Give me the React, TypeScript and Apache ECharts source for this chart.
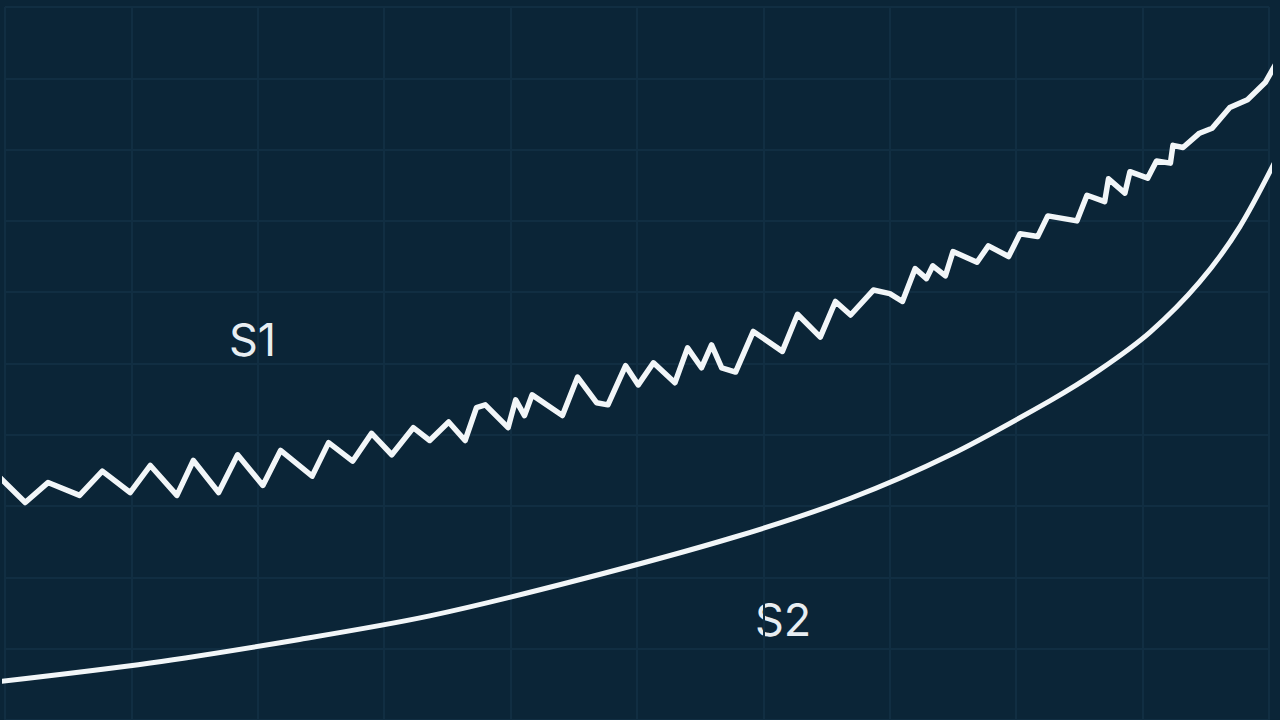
import React, { useEffect, useRef } from "react";
import * as echarts from "echarts";

// S1: noisy rising series (x, y) in chart units (x 0..100, y 0..100)
const s1X = [-0.4, 1.6, 3.4, 5.9, 7.7, 9.9, 11.5, 13.6, 14.9, 16.9, 18.4, 20.4, 21.8, 24.3, 25.6, 27.5, 29.0, 30.6, 32.3, 33.6, 35.1, 36.4, 37.3, 38.0, 39.8, 40.4, 41.1, 41.7, 44.1, 45.3, 46.8, 47.7, 49.1, 50.1, 51.3, 53.0, 54.0, 55.1, 55.9, 56.7, 57.8, 59.2, 61.5, 62.7, 64.5, 65.7, 66.9, 68.7, 70.0, 71.0, 72.0, 72.9, 73.4, 74.4, 75.0, 76.9, 77.8, 79.4, 80.3, 81.7, 82.5, 84.8, 85.6, 87.0, 87.3, 88.6, 89.0, 90.4, 91.1, 92.2, 92.4, 93.2, 94.5, 95.5, 96.9, 98.3, 99.7, 100.5, 100.9];
const s1Y = [34.0, 30.5, 33.3, 31.5, 34.9, 31.9, 35.7, 31.5, 36.4, 31.9, 37.2, 32.9, 37.8, 34.2, 38.9, 36.3, 40.2, 37.2, 41.0, 39.2, 41.8, 39.2, 43.8, 44.2, 41.0, 44.9, 42.7, 45.6, 42.7, 48.1, 44.5, 44.2, 49.7, 47.0, 50.1, 47.3, 52.2, 49.4, 52.6, 49.4, 48.8, 54.5, 51.7, 56.9, 53.7, 58.7, 56.8, 60.3, 59.8, 58.7, 63.3, 61.9, 63.7, 62.3, 65.7, 64.2, 66.5, 65.0, 68.2, 67.8, 70.7, 70.0, 73.6, 72.7, 75.9, 73.9, 76.9, 76.0, 78.4, 78.1, 80.6, 80.3, 82.3, 83.0, 85.9, 87.0, 89.4, 91.9, 91.8];

// S2: smooth accelerating curve
const s2X = [-0.4, 11.5, 23.3, 33.6, 45.5, 57.8, 66.9, 74.8, 82.7, 86.6, 90.6, 94.5, 97.7, 100.9];
const s2Y = [5.4, 8.0, 11.3, 14.6, 19.7, 25.7, 31.1, 37.2, 44.8, 49.1, 54.4, 61.4, 69.2, 79.8];

const seriesLabels = ["S1", "S2"];

export default function App() {
  const ref = useRef<HTMLDivElement>(null);
  useEffect(() => {
    if (!ref.current) return;
    const chart = echarts.init(ref.current, undefined, { renderer: "svg" });
    const lineColor = "#f2f6f8";
    const gridColor = "#112e42";
    chart.setOption({
      animation: false,
      backgroundColor: "#0b2537",
      grid: { left: 5, right: 11, top: 7, bottom: -4 },
      xAxis: {
        type: "value",
        min: 0,
        max: 100,
        interval: 10,
        axisLine: { show: false },
        axisTick: { show: false },
        axisLabel: { show: false },
        splitLine: { show: true, lineStyle: { color: gridColor, width: 2 } },
      },
      yAxis: {
        type: "value",
        min: 0,
        max: 100,
        interval: 10,
        axisLine: { show: false },
        axisTick: { show: false },
        axisLabel: { show: false },
        splitLine: { show: true, lineStyle: { color: gridColor, width: 2 } },
      },
      series: [
        {
          name: seriesLabels[0],
          type: "line",
          data: s1X.map((x, i) => [x, s1Y[i]]),
          showSymbol: false,
          clip: false,
          lineStyle: { color: lineColor, width: 5.5, join: "round", cap: "round" },
        },
        {
          name: seriesLabels[1],
          type: "line",
          data: s2X.map((x, i) => [x, s2Y[i]]),
          showSymbol: false,
          smooth: 0.3,
          clip: false,
          lineStyle: { color: lineColor, width: 5, cap: "round" },
        },
      ],
      graphic: [
        {
          type: "text",
          left: 229,
          top: 317,
          style: { text: seriesLabels[0], fill: "#e8eef2", font: '400 45px "Inter", "Noto Sans", sans-serif' },
        },
        {
          type: "text",
          left: 755,
          top: 597,
          style: { text: seriesLabels[1], fill: "#e8eef2", font: '400 45px "Inter", "Noto Sans", sans-serif' },
        },
      ],
    });
    return () => chart.dispose();
  }, []);
  return (
    <div
      ref={ref}
      style={{ position: "fixed", left: 0, top: 0, width: 1280, height: 720 }}
    />
  );
}
